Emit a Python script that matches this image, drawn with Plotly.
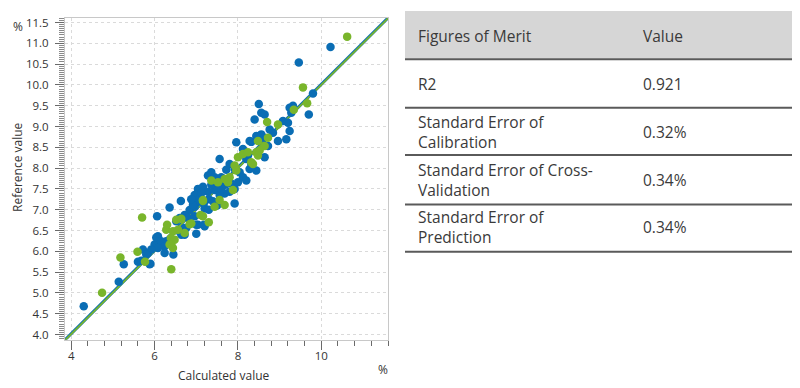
import plotly.graph_objects as go

# ---------------- data ----------------
blue_x = [4.30, 5.14, 5.26, 5.60, 5.90, 5.72, 5.84, 6.08, 6.00, 6.20, 6.28, 6.06, 6.63, 6.36,
          7.18, 6.96, 6.84, 6.72, 6.60, 6.52, 6.76, 7.18, 7.00, 6.56, 6.64, 6.72, 6.04, 6.16,
          6.24, 6.08, 5.92, 5.80, 5.68, 5.88, 6.24, 6.45, 7.00, 7.96, 8.28, 7.56, 8.20, 8.32,
          8.28, 8.44, 7.92, 8.04, 8.12, 8.20, 7.36, 7.28, 7.44, 7.60, 7.84, 8.00, 7.92, 7.80,
          7.68, 7.04, 7.16, 7.28, 7.44, 7.56, 6.96, 7.04, 6.92, 7.20, 7.92, 6.80, 6.96, 7.04,
          6.72, 7.20, 9.80, 9.70, 9.32, 9.24, 9.28, 8.50, 8.56, 8.64, 8.40, 9.08, 9.20, 9.24,
          8.76, 8.84, 8.96, 9.16, 8.32, 8.44, 8.56, 8.64, 8.72, 8.12, 8.24, 8.64, 10.22, 9.46,
          7.10, 7.30, 7.40, 7.50, 7.60, 7.70, 7.12, 7.36, 7.50, 6.88, 7.30, 7.80, 7.72]
blue_y = [4.68, 5.27, 5.69, 5.75, 5.70, 6.04, 5.96, 6.36, 6.16, 6.16, 6.24, 6.84, 7.21, 7.05,
          7.15, 7.07, 6.99, 6.87, 6.80, 6.72, 6.56, 6.64, 6.42, 6.50, 6.40, 6.40, 6.33, 6.24,
          6.12, 6.08, 6.04, 5.92, 5.77, 5.69, 5.96, 5.92, 6.64, 8.62, 8.65, 8.22, 8.22, 8.10,
          7.98, 7.94, 7.98, 7.90, 7.78, 7.70, 7.90, 7.82, 7.78, 7.78, 7.63, 7.66, 7.50, 7.43,
          7.39, 7.50, 7.55, 7.43, 7.47, 7.35, 7.35, 7.19, 7.11, 7.03, 7.15, 6.80, 6.84, 6.64,
          6.56, 6.60, 9.79, 9.29, 9.50, 9.45, 9.33, 9.54, 9.33, 9.29, 9.17, 9.13, 9.09, 8.89,
          8.93, 8.85, 8.65, 8.69, 8.63, 8.77, 8.81, 8.73, 8.53, 8.46, 8.30, 8.26, 10.91, 10.54,
          7.30, 7.25, 7.20, 7.10, 7.50, 7.60, 7.40, 7.60, 7.65, 7.25, 7.00, 8.10, 7.96]

green_x = [4.74, 5.18, 5.59, 5.77, 6.28, 6.40, 6.40, 5.70, 7.16, 6.30, 6.52, 6.64, 6.84, 7.10,
           7.16, 7.30, 6.44, 6.39, 6.48, 6.36, 6.44, 8.48, 8.64, 8.00, 8.12, 8.24, 8.36, 8.44,
           8.52, 7.92, 7.96, 7.80, 7.36, 7.52, 7.68, 7.76, 7.88, 7.16, 7.56, 7.68, 7.44, 6.88,
           6.56, 6.72, 10.62, 9.56, 9.66, 9.34, 8.70, 8.96, 8.72, 8.48, 8.32]
green_y = [5.00, 5.85, 5.99, 5.75, 6.52, 6.16, 5.57, 6.81, 7.21, 6.64, 6.76, 6.78, 6.65, 6.87,
           6.84, 6.70, 6.48, 6.32, 6.28, 6.16, 6.08, 8.65, 8.53, 8.26, 8.34, 8.38, 8.10, 8.38,
           8.42, 8.06, 7.94, 7.78, 7.70, 7.66, 7.74, 7.66, 7.47, 7.23, 7.23, 7.11, 7.07, 6.67,
           6.52, 6.44, 11.16, 9.94, 9.56, 9.40, 9.11, 9.05, 8.73, 8.30, 8.14]

fit_blue_x = [3.85, 11.60]
fit_blue_y = [3.87, 11.61]
fit_green_x = [3.85, 11.60]
fit_green_y = [3.86, 11.60]

x_range = [3.85, 11.60]
y_range = [3.874, 11.61]

table_header = ["Figures of Merit", "Value"]
table_names = ["R2", "Standard Error of<br>Calibration",
               "Standard Error of Cross-<br>Validation", "Standard Error of<br>Prediction"]
table_values = ["0.921", "0.32%", "0.34%", "0.34%"]

BLUE = "#0a6db4"
GREEN = "#79b52b"
W, H = 800, 388
FONT = "Open Sans, Noto Sans, sans-serif"
TXT = "#333333"


def px(x):
    return x / W


def py(y):
    return 1 - y / H


fig = go.Figure()
fig.add_trace(go.Scatter(x=fit_blue_x, y=fit_blue_y, mode="lines",
                         line=dict(color=BLUE, width=3), showlegend=False, hoverinfo="skip"))
fig.add_trace(go.Scatter(x=fit_green_x, y=fit_green_y, mode="lines",
                         line=dict(color=GREEN, width=1.8), showlegend=False, hoverinfo="skip"))
fig.add_trace(go.Scatter(x=blue_x, y=blue_y, mode="markers",
                         marker=dict(color=BLUE, size=8.5, line=dict(width=0)), showlegend=False))
fig.add_trace(go.Scatter(x=green_x, y=green_y, mode="markers",
                         marker=dict(color=GREEN, size=8.5, line=dict(width=0)), showlegend=False))

axis_common = dict(
    showline=True, linecolor="#c8c8c8", linewidth=1, mirror=True,
    ticks="outside", tickcolor="#6a6a6a", tickwidth=1, ticklen=9,
    showgrid=True, gridcolor="#dadada", griddash="dot", gridwidth=1,
    zeroline=False, tickfont=dict(family=FONT, size=11.5, color=TXT),
)

fig.update_xaxes(range=x_range, domain=[px(57), px(380)], tick0=4, dtick=2,
                 minor=dict(dtick=0.4, tick0=4, ticks="outside", ticklen=5, tickcolor="#6a6a6a",
                            showgrid=False),
                 ticklabelstandoff=-4, **axis_common)
fig.update_yaxes(range=y_range, domain=[py(333), py(7)], tick0=4, dtick=0.5, tickformat=".1f",
                 minor=dict(dtick=0.05, tick0=4, ticks="outside", ticklen=5, tickcolor="#8a8a8a",
                            showgrid=False),
                 ticklabelstandoff=4, **axis_common)

annotations = [
    dict(text="Calculated value", x=px(216), y=py(369), xref="paper", yref="paper",
         showarrow=False, font=dict(family=FONT, size=12, color=TXT), xanchor="center", yanchor="middle"),
    dict(text="Reference value", x=px(10), y=py(158), xref="paper", yref="paper", textangle=-90,
         showarrow=False, font=dict(family=FONT, size=12, color=TXT), xanchor="center", yanchor="middle"),
    dict(text="%", x=px(10), y=py(16), xref="paper", yref="paper",
         showarrow=False, font=dict(family=FONT, size=12, color=TXT), xanchor="center", yanchor="middle"),
    dict(text="%", x=px(375), y=py(363), xref="paper", yref="paper",
         showarrow=False, font=dict(family=FONT, size=12, color=TXT), xanchor="center", yanchor="middle"),
]

shapes = [dict(type="rect", xref="paper", yref="paper", x0=px(397), x1=px(800), y0=py(48), y1=py(0),
               fillcolor="#d6d6d6", line=dict(width=0), layer="below")]
for yl in [49, 98, 146, 196, 244]:
    shapes.append(dict(type="line", xref="paper", yref="paper", x0=px(397), x1=px(799),
                       y0=py(yl), y1=py(yl), line=dict(color="#5a5a5a", width=2)))

tfont = dict(family=FONT, size=15.5, color="#3a3a3a")
annotations.append(dict(text=table_header[0], x=px(408), y=py(25), xref="paper", yref="paper",
                        showarrow=False, font=tfont, xanchor="left", yanchor="middle"))
annotations.append(dict(text=table_header[1], x=px(633), y=py(25), xref="paper", yref="paper",
                        showarrow=False, font=tfont, xanchor="left", yanchor="middle"))
row_centers = [74, 123, 171, 219]
for name, val, yc in zip(table_names, table_values, row_centers):
    annotations.append(dict(text=name, x=px(408), y=py(yc), xref="paper", yref="paper",
                            showarrow=False, font=tfont, xanchor="left", yanchor="middle", align="left"))
    annotations.append(dict(text=val, x=px(633), y=py(yc), xref="paper", yref="paper",
                            showarrow=False, font=tfont, xanchor="left", yanchor="middle"))

fig.update_layout(width=W, height=H, margin=dict(l=0, r=0, t=0, b=0),
                  paper_bgcolor="white", plot_bgcolor="white",
                  annotations=annotations, shapes=shapes, font=dict(family=FONT))

fig.write_html("out.html")
